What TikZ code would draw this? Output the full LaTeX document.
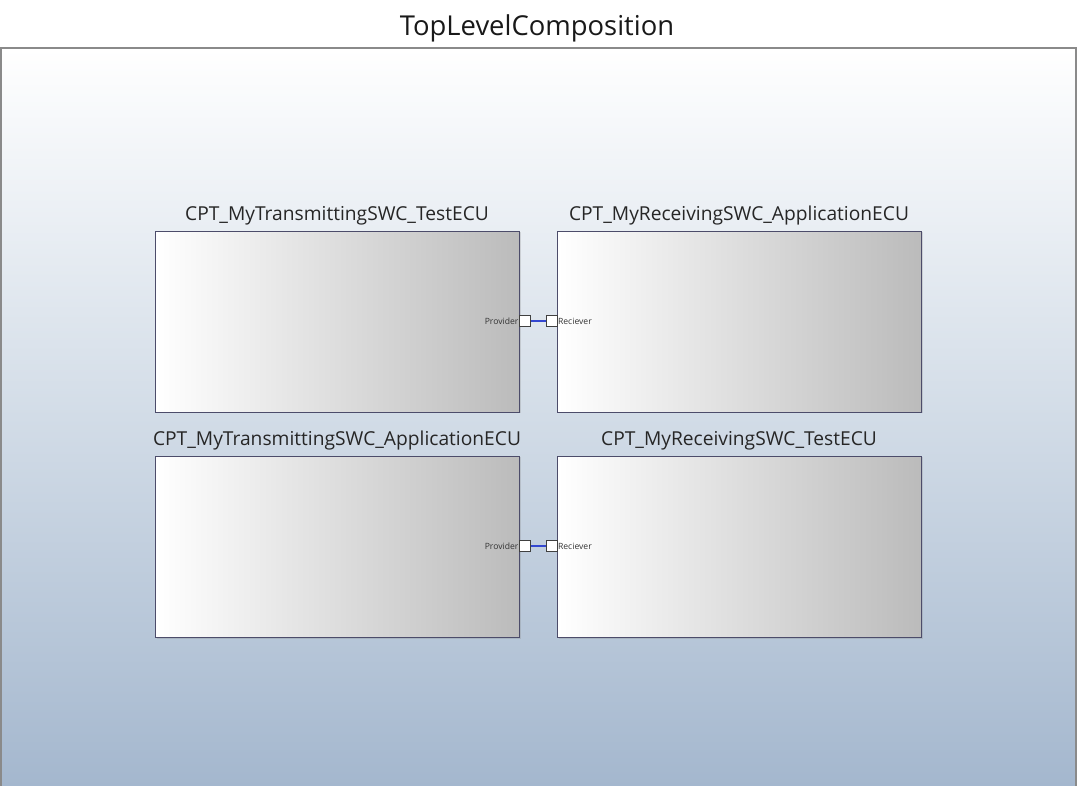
\documentclass[tikz,border=0pt]{standalone}
\usepackage{fontspec}
\setmainfont{Open Sans}
\usetikzlibrary{shadows}
\definecolor{bgbottom}{HTML}{A4B7CE}
\definecolor{bgmid}{HTML}{D2DCE7}
\definecolor{framegray}{HTML}{8A8A8A}
\definecolor{boxline}{HTML}{4C4C6A}
\definecolor{boxgray}{HTML}{BBBBBB}
\definecolor{connblue}{HTML}{3347D0}
\begin{document}
\begin{tikzpicture}[x=1pt,y=-1pt,
  swc/.style={draw=boxline, line width=1pt, left color=white, right color=boxgray, minimum width=364pt, minimum height=181pt, inner sep=0pt, anchor=north west, drop shadow={opacity=0.25, shadow xshift=1pt, shadow yshift=-1pt}},
  swclabel/.style={font=\fontsize{19.2}{22}\selectfont, anchor=base, inner sep=0pt, text=black!85},
  port/.style={draw=black!75, fill=white, line width=0.8pt, minimum size=11pt, inner sep=0pt},
  portlabel/.style={font=\fontsize{8.6}{9}\selectfont, inner sep=0.5pt, text=black!80},
  conn/.style={draw=connblue, line width=1.3pt}
]
\useasboundingbox (0,0) rectangle (1080,786);
\fill[white] (0,0) rectangle (1080,786);
\shade[top color=white, bottom color=bgbottom, middle color=bgmid] (1,48) rectangle (1076,786);
\draw[framegray, line width=1.6pt] (1,786) -- (1,48) -- (1076,48) -- (1076,786);
\node[font=\fontsize{27.4}{30}\selectfont, anchor=base, inner sep=0pt, text=black!90] (title) at (537,36) {TopLevelComposition};

\node[swc] (b1) at (155,231) {};
\node[swc] (b2) at (557,231) {};
\node[swc] (b3) at (155,456) {};
\node[swc] (b4) at (557,456) {};

\node[swclabel] (l1) at (337,221) {CPT\_MyTransmittingSWC\_TestECU};
\node[swclabel] (l2) at (739,221) {CPT\_MyReceivingSWC\_ApplicationECU};
\node[swclabel] (l3) at (337,446) {CPT\_MyTransmittingSWC\_ApplicationECU};
\node[swclabel] (l4) at (739,446) {CPT\_MyReceivingSWC\_TestECU};

\node[port] (p1) at (525,321) {};
\node[port] (r1) at (551.5,321) {};
\node[port] (p2) at (525,546) {};
\node[port] (r2) at (551.5,546) {};
\node[portlabel, anchor=east] (pl1) at (p1.west) {Provider};
\node[portlabel, anchor=west] (rl1) at (r1.east) {Reciever};
\node[portlabel, anchor=east] (pl2) at (p2.west) {Provider};
\node[portlabel, anchor=west] (rl2) at (r2.east) {Reciever};
\draw[conn] (p2.east) -- (r2.west);
\draw[conn] (p1.east) -- (r1.west);
\end{tikzpicture}
\end{document}
